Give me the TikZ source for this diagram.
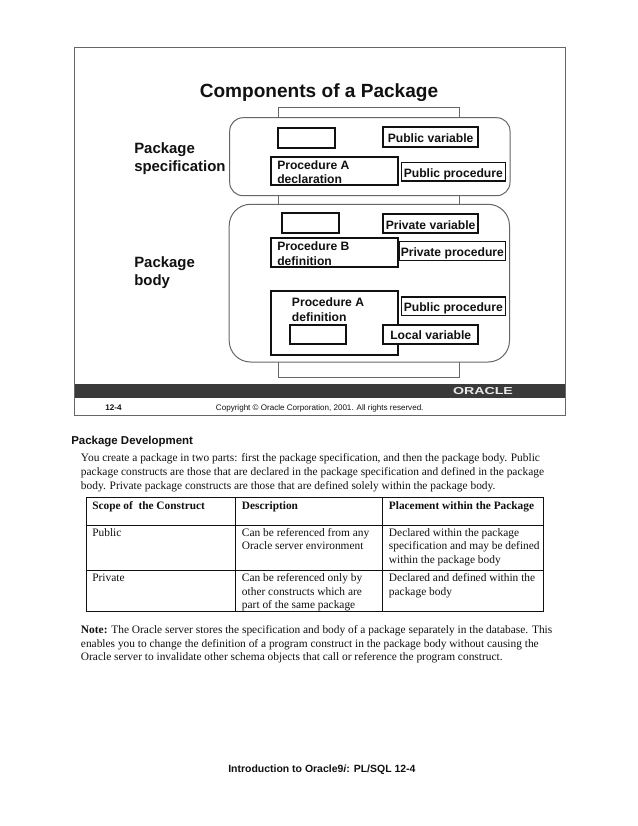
\documentclass[tikz,border=0pt]{standalone}
\usepackage{fontspec}
\setmainfont{Liberation Sans}
\newfontfamily\tnr{Liberation Serif}
\definecolor{inkc}{HTML}{111111}
\definecolor{framec}{HTML}{666666}
\definecolor{bandc}{HTML}{3A3A3A}
\definecolor{logoc}{HTML}{E8E8E8}
\tikzset{
  txt/.style={anchor=base west,inner sep=0pt,text=inkc},
  boxlabel/.style={txt,font=\fontsize{9.1}{11}\selectfont\bfseries},
  sidelabel/.style={txt,font=\fontsize{11.2}{13}\selectfont\bfseries},
  bodytxt/.style={txt,font=\tnr\fontsize{8.55}{11}\selectfont},
  tabhead/.style={txt,font=\tnr\fontsize{8.5}{11}\selectfont\bfseries},
  thinline/.style={draw=framec,line width=0.75pt},
  pkg/.style={draw=framec,line width=0.75pt,fill=white},
  pbox/.style={draw=inkc,line width=1.35pt,fill=white},
  tabline/.style={draw=inkc,line width=0.7pt}
}
\begin{document}
\begin{tikzpicture}[x=0.75pt,y=-0.75pt]
\useasboundingbox (0,0) rectangle (638,826);
\fill[white] (0,0) rectangle (638,826);
% slide frame
\draw[thinline] (74.5,47.5) rectangle (565,415);
\fill[bandc] (74.5,384) rectangle (565,398);
% package backing shape
\draw[thinline] (278.5,107.7) rectangle (459.5,377);
\draw[pkg,rounded corners=10pt] (229.7,117.7) rectangle (510,195.7);
\draw[pkg,rounded corners=16pt] (229.2,204.3) rectangle (509.5,362);
% title
\node[anchor=center,inner sep=0pt,text=inkc,font=\fontsize{14.3}{18}\selectfont\bfseries] (title) at (319,93) {Components of a Package};
\node[sidelabel] (ps1) at (134,153) {Package};
\node[sidelabel] (ps2) at (134,171) {specification};
\node[sidelabel] (pb1) at (134,267) {Package};
\node[sidelabel] (pb2) at (134,285) {body};
% spec boxes
\draw[pbox] (278,128) rectangle (334.7,148);
\draw[pbox] (383.3,127) rectangle (478,146.7);
\node[boxlabel] (pv) at (387.5,142) {Public variable};
\draw[pbox] (270.7,156.7) rectangle (398.3,185.3);
\node[boxlabel] (pad1) at (277,169) {Procedure A};
\node[boxlabel] (pad2) at (277,183) {declaration};
\draw[pbox,line width=1pt] (401.3,162.3) rectangle (505.3,181);
\node[boxlabel] (pp) at (403.5,177) {Public procedure};
% body boxes
\draw[pbox] (281.7,213) rectangle (338.7,233.3);
\draw[pbox] (383.3,213.7) rectangle (478,233.3);
\node[boxlabel] (prv) at (385.5,229) {Private variable};
\draw[pbox] (270.7,238) rectangle (398.3,267);
\node[boxlabel] (pbd1) at (277,250) {Procedure B};
\node[boxlabel] (pbd2) at (277,265) {definition};
\draw[pbox,line width=1pt] (399.3,241.3) rectangle (505.3,260.3);
\node[boxlabel] (prp) at (400.5,256) {Private procedure};
\draw[pbox] (270.7,290.7) rectangle (398.3,354.7);
\node[boxlabel] (pad3) at (291.7,306) {Procedure A};
\node[boxlabel] (pad4) at (291.7,321) {definition};
\draw[pbox,line width=1pt] (401.3,297) rectangle (505.3,315.7);
\node[boxlabel] (pp2) at (403.5,311.5) {Public procedure};
\draw[pbox] (289.7,324.7) rectangle (346.3,344.3);
\draw[pbox] (383.3,324.7) rectangle (478,344.3);
\node[boxlabel] (lv) at (390,339.5) {Local variable};
% logo and slide footer
\node[anchor=center,inner sep=0pt,text=logoc,font=\fontsize{7.6}{8}\selectfont\bfseries] (logo) at (483,391.3) {\scalebox{1.4}[1]{ORACLE}};
\node[txt,font=\fontsize{6.1}{8}\selectfont\bfseries] (num) at (105,410) {12-4};
\node[txt,font=\fontsize{6.05}{8}\selectfont] (copy) at (215.7,410) {Copyright © Oracle Corporation, 2001. All rights reserved.};
% page text
\node[txt,font=\fontsize{8.6}{11}\selectfont\bfseries] (head) at (71,444) {Package Development};
\node[bodytxt] (l1) at (80.7,461.7) {You create a package in two parts: first the package specification, and then the package body. Public};
\node[bodytxt] (l2) at (80.7,475.5) {package constructs are those that are declared in the package specification and defined in the package};
\node[bodytxt] (l3) at (80.7,489.3) {body. Private package constructs are those that are defined solely within the package body.};
% table
\draw[tabline] (86.3,497.7) rectangle (543.3,611.3);
\draw[tabline] (235.7,497.7) -- (235.7,611.3);
\draw[tabline] (382.3,497.7) -- (382.3,611.3);
\draw[tabline] (86.3,525) -- (543.3,525);
\draw[tabline] (86.3,570.3) -- (543.3,570.3);
\node[tabhead] (h1) at (92,509) {Scope of\ \ the Construct};
\node[tabhead] (h2) at (241.7,509) {Description};
\node[tabhead] (h3) at (388.7,509) {Placement within the Package};
\node[bodytxt] (c1) at (92,536.7) {Public};
\node[bodytxt] (c2) at (241.7,536.7) {Can be referenced from any};
\node[bodytxt] (c3) at (241.7,549.8) {Oracle server environment};
\node[bodytxt] (c4) at (388.7,536.7) {Declared within the package};
\node[bodytxt] (c5) at (388.7,549.8) {specification and may be defined};
\node[bodytxt] (c6) at (388.7,563) {within the package body};
\node[bodytxt] (d1) at (92,581.7) {Private};
\node[bodytxt] (d2) at (241.7,581.7) {Can be referenced only by};
\node[bodytxt] (d3) at (241.7,595) {other constructs which are};
\node[bodytxt] (d4) at (241.7,608.3) {part of the same package};
\node[bodytxt] (d5) at (388.7,581.7) {Declared and defined within the};
\node[bodytxt] (d6) at (388.7,595) {package body};
% note
\node[bodytxt] (n1) at (80.7,633.3) {\textbf{Note:} The Oracle server stores the specification and body of a package separately in the database. This};
\node[bodytxt] (n2) at (80.7,647.2) {enables you to change the definition of a program construct in the package body without causing the};
\node[bodytxt] (n3) at (80.7,660.8) {Oracle server to invalidate other schema objects that call or reference the program construct.};
% page footer
\node[txt,font=\fontsize{7.85}{11}\selectfont\bfseries] (foot) at (228,772) {Introduction to Oracle9\textit{i}: PL/SQL 12-4};
\end{tikzpicture}
\end{document}
